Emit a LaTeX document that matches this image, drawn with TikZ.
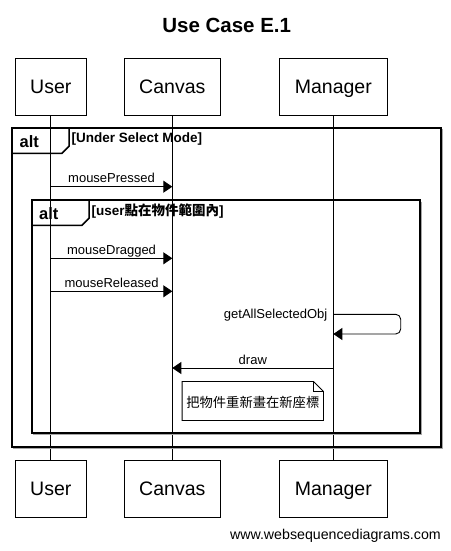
\documentclass[tikz,border=0pt]{standalone}
\usepackage{fontspec}
\setmainfont{Liberation Sans}
\newfontfamily\cjk{Noto Sans CJK TC}
\usetikzlibrary{calc}
\usetikzlibrary{arrows.meta}

\begin{document}
\begin{tikzpicture}[x=1pt,y=-1pt]
\tikzstyle{actor}=[draw, line width=0.9pt, minimum height=57pt, inner sep=0pt, text height=13.5pt, text depth=0pt, font=\fontsize{19.5}{22}\selectfont]
\tikzstyle{msg}=[line width=0.9pt, -{Triangle[length=9pt,width=12pt]}]
\tikzstyle{lbl}=[above, inner sep=0pt, outer sep=0pt, text depth=0pt, yshift=4pt, font=\fontsize{13}{15}\selectfont]
\tikzstyle{frame}=[line width=1.8pt]
\tikzstyle{shadow}=[line width=1pt, gray!70]
\tikzstyle{tag}=[anchor=west, inner sep=0pt, font=\bfseries\fontsize{16.5}{18}\selectfont]
\tikzstyle{guard}=[anchor=west, inner sep=0pt, font=\bfseries\fontsize{13.5}{15}\selectfont]

\useasboundingbox (0,0) rectangle (450,551);

\node (title) at (226.7,25) {\bfseries\fontsize{20.5}{24}\selectfont Use Case E.1};

\node (user) at (50.8,87) [actor, minimum width=71pt] {User};
\node (canvas) at (172.3,87) [actor, minimum width=96pt] {Canvas};
\node (manager) at (333.3,87) [actor, minimum width=108pt] {Manager};

\node (userB) at (50.8,488.7) [actor, minimum width=71pt] {User};
\node (canvasB) at (172.3,488.7) [actor, minimum width=96pt] {Canvas};
\node (managerB) at (333.3,488.7) [actor, minimum width=108pt] {Manager};

\draw[line width=0.9pt] (user) -- (userB);
\draw[line width=0.9pt] (canvas) -- (canvasB);
\draw[line width=0.9pt] (manager) -- (managerB);

\draw[shadow] (442.5,129) -- (442.5,448.2) -- (13,448.2);
\draw[frame] (11.7,127.7) rectangle (441,446.7);
\draw[line width=1.5pt] (11.7,153.3) -- (62,153.3) -- (69,146.3) -- (69,127.7);
\node (alt1) at (19.5,142) [tag] {alt};
\node (cond1) at (71.5,139.5) [guard] {[Under Select Mode]};

\coordinate (pressA) at (50.8,186.7);
\coordinate (pressB) at (172.3,186.7);
\draw[msg] (pressA) -- (pressB) node[lbl, midway] (pressL) {mousePressed};

\draw[shadow] (421.5,201.5) -- (421.5,434.8) -- (33,434.8);
\draw[frame] (31.7,200.3) rectangle (420,433.3);
\draw[line width=1.5pt] (31.7,225.3) -- (82,225.3) -- (89,218.3) -- (89,200.3);
\node (alt2) at (39,213.5) [tag] {alt};
\node (cond2) at (91.5,211.5) [guard] {[user{\cjk\bfseries 點在物件範圍內}]};

\coordinate (dragA) at (50.8,258.3);
\coordinate (dragB) at (172.3,258.3);
\draw[msg] (dragA) -- (dragB) node[lbl, midway] (dragL) {mouseDragged};

\coordinate (relA) at (50.8,291.3);
\coordinate (relB) at (172.3,291.3);
\draw[msg] (relA) -- (relB) node[lbl, midway] (relL) {mouseReleased};

\coordinate (selfA) at (333.3,314.3);
\coordinate (selfB) at (333.3,334);
\draw[msg, rounded corners=5pt] (selfA) -- (400.7,314.3) -- (400.7,334) -- (selfB);
\node[left, inner sep=0pt, font=\fontsize{13}{15}\selectfont] (selfL) at (327.5,315.5) {getAllSelectedObj};

\coordinate (drawA) at (333.3,368);
\coordinate (drawB) at (172.3,368);
\draw[msg] (drawA) -- (drawB) node[lbl, midway] (drawL) {draw};

\node (note) at (252.8,401) [minimum width=141pt, minimum height=38.6pt, inner sep=0pt] {};
\draw[line width=0.9pt, fill=white] (note.north west) -- ($(note.north east)+(-10,0)$) -- ($(note.north east)+(0,10)$) -- (note.south east) -- (note.south west) -- cycle;
\draw[line width=0.9pt] ($(note.north east)+(-10,0)$) -- ($(note.north east)+(-10,10)$) -- ($(note.north east)+(0,10)$);
\node (noteTxt) at ($(note.center)+(0,1.5)$) [font=\cjk\fontsize{13.3}{15}\selectfont] {把物件重新畫在新座標};

\node (footer) at (441,539) [anchor=base east, inner sep=0pt, font=\fontsize{14.2}{16}\selectfont] {www.websequencediagrams.com};

\end{tikzpicture}
\end{document}
